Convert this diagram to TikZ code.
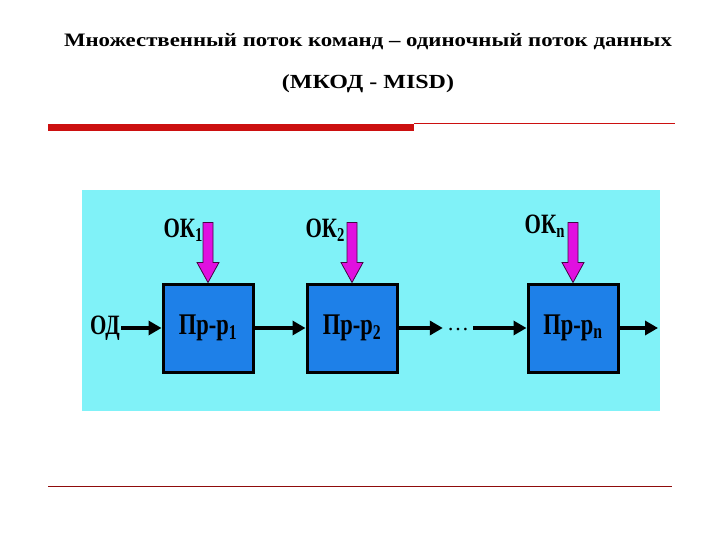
\documentclass[tikz,border=0pt]{standalone}
\usepackage{fontspec}
\setmainfont{Liberation Serif}
\usetikzlibrary{arrows.meta}
\definecolor{cyanbg}{HTML}{80F2F8}
\definecolor{boxblue}{HTML}{1E80E8}
\definecolor{mag}{HTML}{E010E0}
\definecolor{redbar}{HTML}{CC1010}
\begin{document}
\begin{tikzpicture}[x=1pt,y=-1pt,
  proc/.style={draw=black,line width=3pt,fill=boxblue,minimum width=90pt,minimum height=88pt,inner sep=0pt,font=\fontsize{30}{30}\selectfont\bfseries},
  flow/.style={-{Triangle[length=13pt,width=14pt]},line width=4.5pt},
  cmd/.style={draw=black!70!mag,fill=mag,line width=0.8pt},
  lbl/.style={font=\fontsize{28}{28}\selectfont\bfseries,inner sep=1pt}]
\useasboundingbox (0,0) rectangle (720,540);
\fill[white] (0,0) rectangle (720,540);
\node (title) at (368,42) {\fontsize{19}{22}\selectfont\bfseries\scalebox{1.2}[1]{Множественный поток команд – одиночный поток данных}};
\node (sub) at (368,84) {\fontsize{20}{22}\selectfont\bfseries\scalebox{1.2}[1]{(МКОД - MISD)}};
\fill[redbar] (48,124) rectangle (414,131);
\draw[redbar,line width=0.7pt] (414,123) -- (675,123);
\draw[redbar!70!black,line width=0.7pt] (48,486) -- (672,486);
\fill[cyanbg] (82,190) rectangle (660,411);
\node[proc] (p1) at (208,328) {\scalebox{0.75}[1]{Пр-р\textsubscript{1}}};
\node[proc] (p2) at (352,328) {\scalebox{0.75}[1]{Пр-р\textsubscript{2}}};
\node[proc] (pn) at (573,328) {\scalebox{0.75}[1]{Пр-р\textsubscript{n}}};
\node[lbl] (od) at (105,328) {\scalebox{0.75}[1]{ОД}};
\node[lbl,inner xsep=4pt] (dots) at (458,330) {\fontsize{22}{22}\selectfont\mdseries…};
\coordinate (out) at (658,328);
\draw[flow] (od) -- (p1);
\draw[flow] (p1) -- (p2);
\draw[flow] (p2) -- (p2 -| dots.west);
\draw[flow] (pn -| dots.east) -- (pn);
\draw[flow] (pn) -- (out);
\node[lbl,anchor=east] (ok1) at (204,230) {\scalebox{0.75}[1]{ОК\textsubscript{1}}};
\node[lbl,anchor=east] (ok2) at (346,230) {\scalebox{0.75}[1]{ОК\textsubscript{2}}};
\node[lbl,anchor=east] (okn) at (566,226) {\scalebox{0.75}[1]{ОК\textsubscript{n}}};
\foreach \b in {p1,p2,pn}{
  \draw[cmd] ([xshift=-5pt,yshift=60pt]\b.north) -- ([xshift=5pt,yshift=60pt]\b.north)
    -- ([xshift=5pt,yshift=20pt]\b.north) -- ([xshift=11pt,yshift=20pt]\b.north)
    -- (\b.north) -- ([xshift=-11pt,yshift=20pt]\b.north) -- ([xshift=-5pt,yshift=20pt]\b.north) -- cycle;
}
\end{tikzpicture}
\end{document}
